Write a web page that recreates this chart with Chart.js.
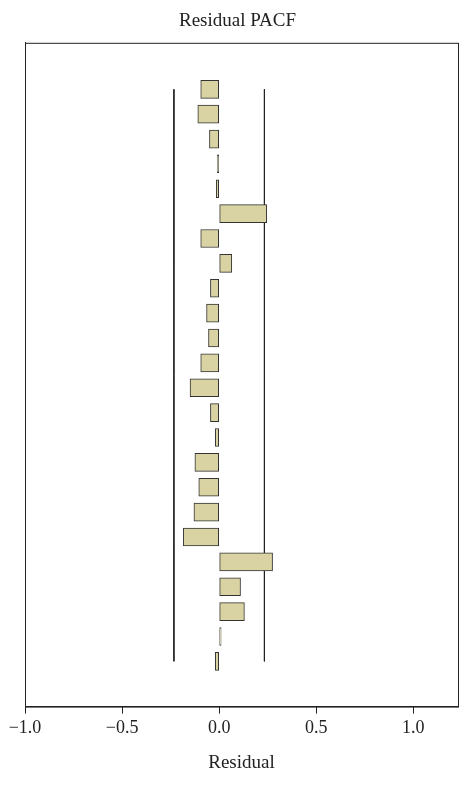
<!DOCTYPE html><html><head><script src="https://cdn.jsdelivr.net/npm/chart.js"></script>
<style>body{margin:0;background:#fff}#w{width:474px;height:786px}</style></head><body><div id="w"><canvas id="c"></canvas></div>
<script>
const lags=[1,2,3,4,5,6,7,8,9,10,11,12,13,14,15,16,17,18,19,20,21,22,23,24];
const pacf=[-0.095,-0.11,-0.05,-0.01,-0.015,0.245,-0.095,0.065,-0.045,-0.065,-0.055,-0.095,-0.15,-0.045,-0.02,-0.125,-0.105,-0.13,-0.185,0.275,0.11,0.13,0.01,-0.02];
const confLimit=0.233;
const xTicks=[-1,-0.5,0,0.5,1];
const fmt=v=>(v<0?'\u2212':'')+Math.abs(v).toFixed(1);
const frame={id:'frame',afterDraw(ch){const a=ch.chartArea,c=ch.ctx;c.save();c.strokeStyle='#222';c.lineWidth=1;c.strokeRect(a.left+0.5,a.top+0.5,a.right-a.left,a.bottom-a.top);c.restore();}};
new Chart(document.getElementById('c'),{
 plugins:[frame],
 data:{datasets:[
  {type:'bar',data:lags.map((l,i)=>({x:pacf[i],y:l})),backgroundColor:'#d9d3a3',borderColor:'#333',borderWidth:1,barThickness:18,borderSkipped:false},
  {type:'line',data:[{x:-confLimit,y:1},{x:-confLimit,y:24}],borderColor:'#222',borderWidth:1,pointRadius:0},
  {type:'line',data:[{x:confLimit,y:1},{x:confLimit,y:24}],borderColor:'#222',borderWidth:1,pointRadius:0}
 ]},
 options:{indexAxis:'y',responsive:true,maintainAspectRatio:false,animation:false,
  layout:{padding:{left:17,right:16,top:6,bottom:8}},
  plugins:{legend:{display:false},tooltip:{enabled:false},
   title:{display:true,text:'Residual PACF',color:'#222',font:{family:'Liberation Serif',size:19,weight:'normal'},padding:{top:4,bottom:10}}},
  scales:{
   x:{type:'linear',min:-1,max:1.23,afterBuildTicks:a=>{a.ticks=xTicks.map(v=>({value:v}))},
    ticks:{callback:v=>fmt(v),color:'#222',font:{family:'Liberation Serif',size:18},maxRotation:0,padding:4},
    grid:{display:true,drawOnChartArea:false,drawTicks:true,tickLength:7,color:'#222'},border:{color:'#222'},
    title:{display:true,text:'Residual',color:'#222',font:{family:'Liberation Serif',size:19},padding:{top:8}}},
   y:{type:'linear',reverse:true,min:-0.87,max:25.82,afterBuildTicks:a=>{a.ticks=[]},ticks:{display:false},grid:{display:false},border:{color:'#222'}}
  }}});
</script></body></html>
